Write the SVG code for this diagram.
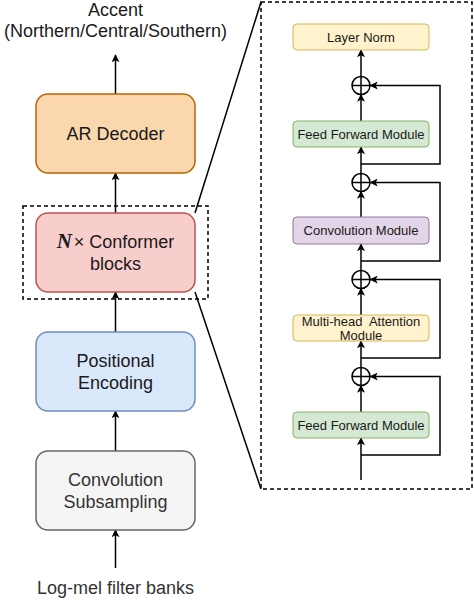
<svg xmlns="http://www.w3.org/2000/svg" width="474" height="600" viewBox="0 0 474 600">
<defs>
<marker id="ah" viewBox="0 0 10 10" refX="9" refY="5" markerWidth="8" markerHeight="8" markerUnits="userSpaceOnUse" orient="auto">
<path d="M0,0 L10,5 L0,10 L2.5,5 Z" fill="#000"/>
</marker>
</defs>
<style>
.big{stroke-width:1.5}
.t{font-family:"Liberation Sans",Arial,sans-serif;font-size:18px;fill:#1a1a1a;text-anchor:middle}
.s{font-family:"Liberation Sans",Arial,sans-serif;font-size:13px;fill:#1a1a1a;text-anchor:middle}
.ln{fill:none;stroke:#000;stroke-width:1.5}
.ar{fill:none;stroke:#000;stroke-width:1.5;marker-end:url(#ah)}
.dash{fill:none;stroke:#000;stroke-width:1.5;stroke-dasharray:4 3}
</style>
<rect width="474" height="600" fill="#fff"/>

<g id="connectors">
<line class="ar" x1="115.5" y1="94" x2="115.5" y2="55"/>
<line class="ar" x1="115.5" y1="213" x2="115.5" y2="173"/>
<line class="ar" x1="115.5" y1="332" x2="115.5" y2="292"/>
<line class="ar" x1="115.5" y1="451" x2="115.5" y2="411"/>
<line class="ar" x1="115.5" y1="568" x2="115.5" y2="530"/>
<line class="ln" x1="195" y1="213" x2="261" y2="2" stroke-width="1.2"/>
<line class="ln" x1="195" y1="292" x2="261" y2="489" stroke-width="1.2"/>
<line class="ar" x1="361" y1="76.5" x2="361" y2="50"/>
<line class="ar" x1="361" y1="121" x2="361" y2="94.5"/>
<line class="ar" x1="361" y1="173.5" x2="361" y2="147"/>
<line class="ar" x1="361" y1="217" x2="361" y2="191.5"/>
<line class="ar" x1="361" y1="270.5" x2="361" y2="244"/>
<line class="ar" x1="361" y1="315" x2="361" y2="288.5"/>
<line class="ar" x1="361" y1="367.5" x2="361" y2="341"/>
<line class="ar" x1="361" y1="412" x2="361" y2="385.5"/>
<line class="ar" x1="361" y1="480" x2="361" y2="438"/>
<polyline class="ar" points="361,164 440,164 440,85.5 370.5,85.5"/>
<polyline class="ar" points="361,261 440,261 440,182.5 370.5,182.5"/>
<polyline class="ar" points="361,358 440,358 440,279.5 370.5,279.5"/>
<polyline class="ar" points="361,455 440,455 440,376.5 370.5,376.5"/>
</g>

<g id="output-label">
<text class="t" x="115.5" y="16">Accent</text>
<text class="t" x="115.5" y="37">(Northern/Central/Southern)</text>
</g>

<g id="ar-decoder">
<rect x="36" y="94" width="159" height="79" rx="12" fill="#fad7ac" stroke="#b46504" class="big"/>
<text class="t" x="115.5" y="140">AR Decoder</text>
</g>

<g id="conformer">
<rect class="dash" x="23" y="206" width="185" height="93"/>
<rect x="36" y="213" width="159" height="79" rx="12" fill="#f8cecc" stroke="#b85450" class="big"/>
<text class="t" x="115.5" y="248"><tspan font-family="'Liberation Serif','Times New Roman',serif" font-style="italic" font-weight="bold" font-size="21">N</tspan><tspan dx="2">× Conformer</tspan></text>
<text class="t" x="115.5" y="270">blocks</text>
</g>

<g id="positional-encoding">
<rect x="36" y="332" width="159" height="79" rx="12" fill="#dae8fc" stroke="#6c8ebf" class="big"/>
<text class="t" x="115.5" y="367">Positional</text>
<text class="t" x="115.5" y="389">Encoding</text>
</g>

<g id="conv-subsampling">
<rect x="36" y="451" width="159" height="79" rx="12" fill="#f5f5f5" stroke="#666666" class="big"/>
<text class="t" x="115.5" y="486" style="fill:#333">Convolution</text>
<text class="t" x="115.5" y="508" style="fill:#333">Subsampling</text>
</g>

<g id="input-label">
<text class="t" x="115.5" y="594" style="fill:#333">Log-mel filter banks</text>
</g>

<g id="conformer-detail">
<rect class="dash" x="261" y="2" width="211" height="487"/>
</g>

<g id="layer-norm">
<rect x="293" y="24" width="136" height="26" rx="4" fill="#fff2cc" stroke="#d6b656"/>
<text class="s" x="361" y="42">Layer Norm</text>
</g>
<g id="ff-top">
<rect x="293" y="121" width="136" height="26" rx="4" fill="#d5e8d4" stroke="#82b366"/>
<text class="s" x="361" y="139">Feed Forward Module</text>
</g>
<g id="conv-module">
<rect x="293" y="217" width="136" height="27" rx="4" fill="#e1d5e7" stroke="#9673a6"/>
<text class="s" x="361" y="235">Convolution Module</text>
</g>
<g id="mha">
<rect x="293" y="315" width="136" height="26" rx="4" fill="#fff2cc" stroke="#d6b656"/>
<text class="s" x="361" y="326" xml:space="preserve">Multi-head  Attention</text>
<text class="s" x="361" y="340">Module</text>
</g>
<g id="ff-bottom">
<rect x="293" y="412" width="136" height="26" rx="4" fill="#d5e8d4" stroke="#82b366"/>
<text class="s" x="361" y="430">Feed Forward Module</text>
</g>

<g id="add1"><circle cx="361" cy="85.5" r="9" fill="#fff" stroke="#000" stroke-width="1.5"/><path d="M352,85.5H370M361,76.5V94.5" stroke="#000" stroke-width="1.5"/></g>
<g id="add2"><circle cx="361" cy="182.5" r="9" fill="#fff" stroke="#000" stroke-width="1.5"/><path d="M352,182.5H370M361,173.5V191.5" stroke="#000" stroke-width="1.5"/></g>
<g id="add3"><circle cx="361" cy="279.5" r="9" fill="#fff" stroke="#000" stroke-width="1.5"/><path d="M352,279.5H370M361,270.5V288.5" stroke="#000" stroke-width="1.5"/></g>
<g id="add4"><circle cx="361" cy="376.5" r="9" fill="#fff" stroke="#000" stroke-width="1.5"/><path d="M352,376.5H370M361,367.5V385.5" stroke="#000" stroke-width="1.5"/></g>
</svg>
